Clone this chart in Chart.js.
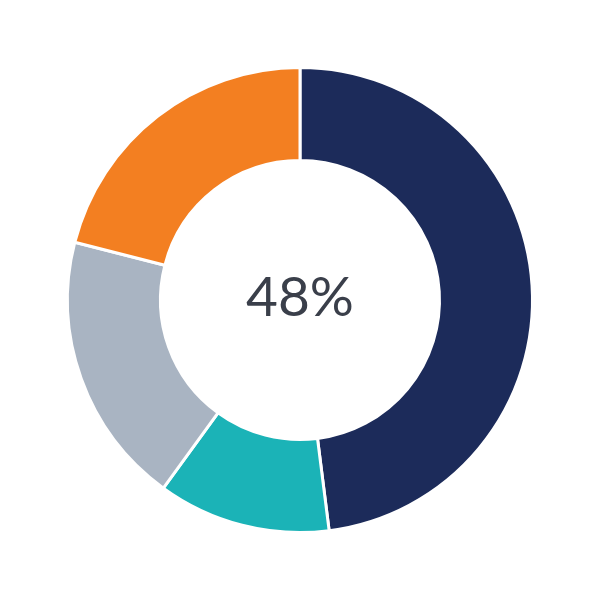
<!DOCTYPE html>
<html>
<head>
<meta charset="utf-8">
<script src="https://cdn.jsdelivr.net/npm/chart.js@4"></script>
<style>
  html, body { margin: 0; padding: 0; background: #fff; }
  #wrap { width: 600px; height: 600px; }
</style>
</head>
<body>
<div id="wrap"><canvas id="chart"></canvas></div>
<script>
const labels = ['Navy', 'Teal', 'Gray', 'Orange'];
const values = [48, 12, 19, 21];
const colors = ['#1c2b5a', '#1bb3b7', '#a9b4c2', '#f37f21'];
const centerLabel = '48%';

const centerText = {
  id: 'centerText',
  afterDraw(chart) {
    const { ctx, chartArea } = chart;
    const cx = (chartArea.left + chartArea.right) / 2;
    const cy = (chartArea.top + chartArea.bottom) / 2;
    ctx.save();
    ctx.font = '400 55px Lato, "Open Sans", sans-serif';
    ctx.fillStyle = '#3a3f4a';
    ctx.textAlign = 'center';
    ctx.textBaseline = 'middle';
    ctx.fillText(centerLabel, cx, cy - 2);
    ctx.restore();
  }
};

new Chart(document.getElementById('chart'), {
  type: 'doughnut',
  data: {
    labels: labels,
    datasets: [{
      data: values,
      backgroundColor: colors,
      borderColor: '#ffffff',
      borderWidth: 3
    }]
  },
  options: {
    responsive: true,
    maintainAspectRatio: false,
    animation: false,
    cutout: '60%',
    layout: { padding: 66 },
    plugins: {
      legend: { display: false },
      tooltip: { enabled: false }
    }
  },
  plugins: [centerText]
});
</script>
</body>
</html>
